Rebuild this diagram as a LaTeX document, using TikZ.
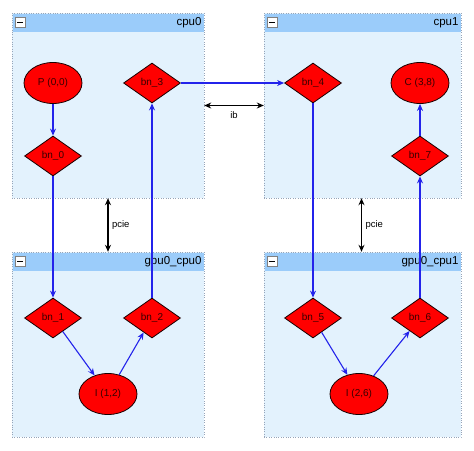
\documentclass[tikz,border=0pt]{standalone}
\usepackage{fontspec}
\setmainfont{Liberation Sans}
\usetikzlibrary{shapes.geometric,arrows.meta}
\definecolor{laneBody}{RGB}{227,242,253}
\definecolor{laneHead}{RGB}{155,204,250}
\definecolor{laneLine}{RGB}{150,165,185}
\definecolor{flowBlue}{RGB}{35,35,235}
\definecolor{opText}{RGB}{55,0,0}
\tikzset{
    lane/.style = {
        draw            = laneLine,
        dotted,
        fill            = laneBody,
        minimum height  = 185,
        inner sep       = 0pt,
    },
    lanehead/.style = {
        fill            = laneHead,
        minimum height  = 18,
        anchor          = north,
        inner sep       = 0pt,
    },
    lanetitle/.style = {
        anchor    = east,
        inner sep = 0pt,
        font      = \fontsize{11.5}{12}\selectfont,
    },
    foldbox/.style = {
        draw           = gray,
        fill           = white,
        minimum size   = 10,
        inner sep      = 0pt,
    },
    task/.style = {
        ellipse,
        draw           = black!90!red,
        line width     = 0.8pt,
        fill           = red,
        text           = opText,
        minimum width  = 58,
        minimum height = 41,
        inner sep      = 0pt,
        font           = \fontsize{10}{11}\selectfont,
    },
    op/.style = {
        diamond,
        draw           = black!90!red,
        line width     = 0.8pt,
        fill           = red,
        text           = opText,
        minimum width  = 57,
        minimum height = 40,
        aspect         = 1.425,
        inner sep      = 0pt,
        font           = \fontsize{10}{11}\selectfont,
    },
    flow/.style = {
        draw       = flowBlue,
        line width = 1.1pt,
        -{Stealth[length=7pt,width=6pt]},
    },
    link/.style = {
        draw       = black,
        line width = 1.1pt,
        {Stealth[length=7pt,width=6pt]}-{Stealth[length=7pt,width=6pt]},
    },
    linklabel/.style = {
        inner sep = 0pt,
        font      = \fontsize{9.5}{10}\selectfont,
    },
}

\begin{document}
\begin{tikzpicture}[x=1pt,y=-1pt]
  \useasboundingbox (0,0) rectangle (474,450);

  % cpu0
  \node[lane,minimum width=192] (cpu0) at (108,105.5) {};
  \node[lanehead,minimum width=191] (cpu0head) at ([yshift=-0.5pt]cpu0.north) {};
  \node[lanetitle] (cpu0title) at ([xshift=-2pt]cpu0head.east) {cpu0};
  \node[foldbox] (cpu0fold) at ([xshift=7.5pt]cpu0head.west) {\rule{5.5pt}{1.3pt}};

  % cpu1
  \node[lane,minimum width=197] (cpu1) at (362.5,105.5) {};
  \node[lanehead,minimum width=196] (cpu1head) at ([yshift=-0.5pt]cpu1.north) {};
  \node[lanetitle] (cpu1title) at ([xshift=-2pt]cpu1head.east) {cpu1};
  \node[foldbox] (cpu1fold) at ([xshift=7.5pt]cpu1head.west) {\rule{5.5pt}{1.3pt}};

  % gpu0_cpu0
  \node[lane,minimum width=192] (gpu0cpu0) at (108,344.5) {};
  \node[lanehead,minimum width=191] (gpu0cpu0head) at ([yshift=-0.5pt]gpu0cpu0.north) {};
  \node[lanetitle] (gpu0cpu0title) at ([xshift=-2pt]gpu0cpu0head.east) {gpu0\_cpu0};
  \node[foldbox] (gpu0cpu0fold) at ([xshift=7.5pt]gpu0cpu0head.west) {\rule{5.5pt}{1.3pt}};

  % gpu0_cpu1
  \node[lane,minimum width=197] (gpu0cpu1) at (362.5,344.5) {};
  \node[lanehead,minimum width=196] (gpu0cpu1head) at ([yshift=-0.5pt]gpu0cpu1.north) {};
  \node[lanetitle] (gpu0cpu1title) at ([xshift=-2pt]gpu0cpu1head.east) {gpu0\_cpu1};
  \node[foldbox] (gpu0cpu1fold) at ([xshift=7.5pt]gpu0cpu1head.west) {\rule{5.5pt}{1.3pt}};

  % Operacoes
  \node[task] (P)    at (53,83)   {P (0,0)};
  \node[op]   (bn0)  at (53,156)  {bn\_0};
  \node[op]   (bn3)  at (152,83)  {bn\_3};
  \node[op]   (bn4)  at (313,83)  {bn\_4};
  \node[task] (C)    at (420,83)  {C (3,8)};
  \node[op]   (bn7)  at (420,156) {bn\_7};
  \node[op]   (bn1)  at (53,318)  {bn\_1};
  \node[op]   (bn2)  at (152,318) {bn\_2};
  \node[task] (I12)  at (108,394) {I (1,2)};
  \node[op]   (bn5)  at (313,318) {bn\_5};
  \node[op]   (bn6)  at (420,318) {bn\_6};
  \node[task] (I26)  at (359,394) {I (2,6)};

  % Fluxo
  \draw[flow] (P) to (bn0);
  \draw[flow] (bn0) to (bn1);
  \draw[flow] (bn1) to (I12);
  \draw[flow] (I12) to (bn2);
  \draw[flow] (bn2) to (bn3);
  \draw[flow] (bn3) to (bn4);
  \draw[flow] (bn4) to (bn5);
  \draw[flow] (bn5) to (I26);
  \draw[flow] (I26) to (bn6);
  \draw[flow] (bn6) to (bn7);
  \draw[flow] (bn7) to (C);

  % Ligacoes
  \draw[link] (cpu0.east) to node[linklabel,midway,below=5.5pt] (ib) {ib} (cpu1.west);
  \draw[link] (cpu0.south) to node[linklabel,midway,right=3.5pt] (pcie0) {pcie} (gpu0cpu0.north);
  \draw[link] ([xshift=-1pt]cpu1.south) to node[linklabel,midway,right=3.5pt] (pcie1) {pcie} ([xshift=-1pt]gpu0cpu1.north);

\end{tikzpicture}
\end{document}
